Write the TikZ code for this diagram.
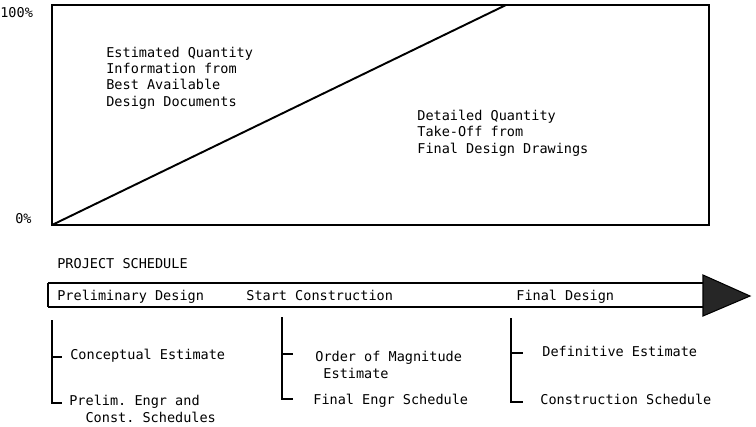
\documentclass[tikz,border=0pt]{standalone}
\usepackage{fontspec}
\setmonofont{DejaVu Sans Mono}
\usetikzlibrary{positioning}
\tikzstyle{note} = [inner sep=0pt, anchor=west, align=left, font=\ttfamily\fontsize{7.7}{9.3}\selectfont]
\tikzstyle{phase} = [note, text height=0.75em, text depth=0.25em]
\tikzstyle{frame} = [line width=1.1pt]
\tikzstyle{band} = [line width=0.8pt]
\tikzstyle{brace} = [line width=0.6pt]
\tikzstyle{head} = [fill=black!85, draw=black, line width=0.6pt]

\begin{document}
\begin{tikzpicture}[x=0.02cm, y=-0.02cm]
    \useasboundingbox (0,0) rectangle (756,426);

    %chart
    \coordinate (origin) at (52,225);
    \coordinate (full) at (506,5);
    \draw [frame] (52,5) rectangle (709,225);
    \draw [frame] (origin) -- (full);
    \node (hundred) [note] at (0,13) {100\%};
    \node (zero) [note] at (15,219) {0\%};
    \node (estimated) [note] at (106,78) {Estimated Quantity\\Information from\\Best Available\\Design Documents};
    \node (detailed) [note] at (417,133) {Detailed Quantity\\Take-Off from\\Final Design Drawings};

    %schedule
    \node (title) [phase] at (57,264) {PROJECT SCHEDULE};
    \coordinate (bandtl) at (48,283);
    \coordinate (bandbl) at (48,307);
    \coordinate (bandtr) at (703,283);
    \coordinate (bandbr) at (703,307);
    \draw [band] (bandtl) -- (bandtr);
    \draw [band] (bandbl) -- (bandbr);
    \draw [frame] (bandtl) -- (bandbl);
    \draw [head] (703,275) -- (750,296) -- (703,316) -- cycle;
    \node (prelim) [phase] at (57,296) {Preliminary Design};
    \node (start) [phase] at (246,296) {Start Construction};
    \node (final) [phase] at (516,296) {Final Design};

    %estimates
    \node (concept) [phase] at (70,355) {Conceptual Estimate};
    \node (engr) [note] at (69,409) {Prelim. Engr and\\\hspace{1.2em}Const. Schedules};
    \node (order) [note] at (315,365) {Order of Magnitude\\\hspace{0.6em}Estimate};
    \node (finalengr) [phase] at (313,400) {Final Engr Schedule};
    \node (definitive) [phase] at (542,352) {Definitive Estimate};
    \node (construct) [phase] at (540,400) {Construction Schedule};

    %brackets
    \draw [brace] (52,320) -- (52,403) -- (62,403);
    \draw [brace] (52,357) -- (62,357);
    \draw [brace] (282,317) -- (282,399) -- (293,399);
    \draw [brace] (282,354) -- (293,354);
    \draw [brace] (511,318) -- (511,402) -- (523,402);
    \draw [brace] (511,353) -- (523,353);

\end{tikzpicture}
\end{document}
